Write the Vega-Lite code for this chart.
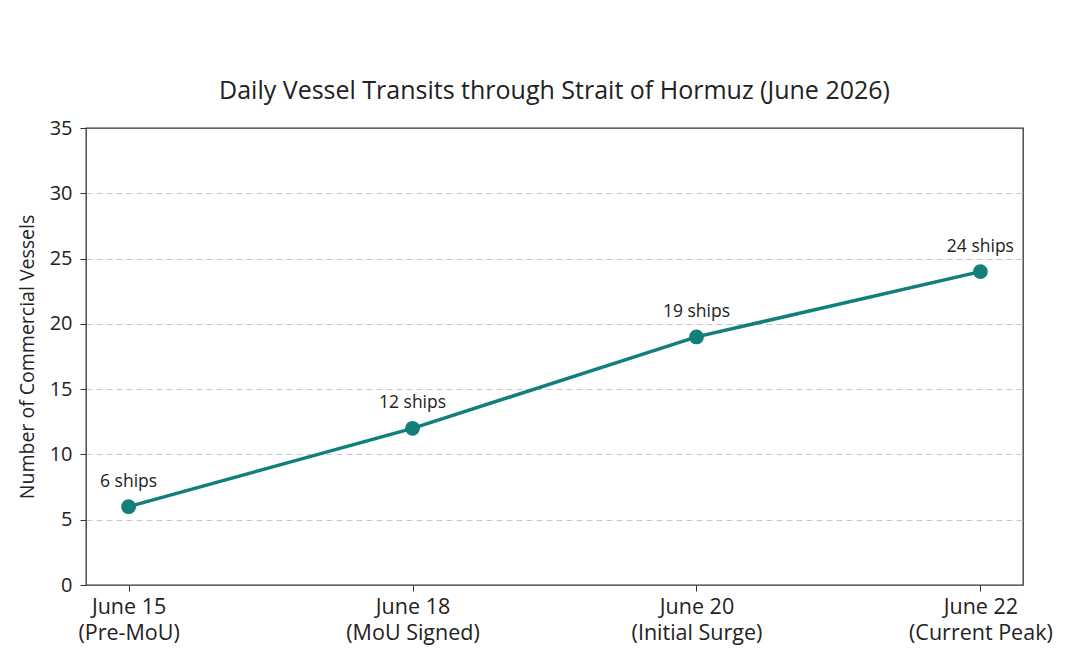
{
  "$schema": "https://vega.github.io/schema/vega-lite/v6.json",
  "width": 937,
  "height": 457,
  "autosize": {"type": "none"},
  "padding": {"left": 86, "top": 128, "right": 57, "bottom": 78},
  "background": "white",
  "config": {
    "font": "Open Sans",
    "view": {"stroke": "#333333", "strokeWidth": 1.3},
    "axis": {"labelColor": "#222222", "titleColor": "#222222", "domain": false, "tickColor": "#333333", "tickSize": 6}
  },
  "title": {
    "text": "Daily Vessel Transits through Strait of Hormuz (June 2026)",
    "fontSize": 25,
    "fontWeight": "normal",
    "color": "#222222",
    "anchor": "middle",
    "offset": 14
  },
  "data": {
    "values": [
      {"day": "June 15|(Pre-MoU)", "vessels": 6},
      {"day": "June 18|(MoU Signed)", "vessels": 12},
      {"day": "June 20|(Initial Surge)", "vessels": 19},
      {"day": "June 22|(Current Peak)", "vessels": 24}
    ]
  },
  "encoding": {
    "x": {
      "field": "day",
      "type": "ordinal",
      "sort": null,
      "scale": {"type": "point", "padding": 0.15},
      "axis": {
        "title": null,
        "labelAngle": 0,
        "labelFontSize": 21.5,
        "labelLineHeight": 26,
        "labelPadding": 5,
        "labelExpr": "split(datum.label, '|')",
        "grid": false
      }
    },
    "y": {
      "field": "vessels",
      "type": "quantitative",
      "scale": {"domain": [0, 35], "nice": false},
      "axis": {
        "title": "Number of Commercial Vessels",
        "titleFontSize": 19.5,
        "titleFontWeight": "normal",
        "titlePadding": 12,
        "labelFontSize": 20,
        "labelPadding": 8,
        "values": [0, 5, 10, 15, 20, 25, 30, 35],
        "grid": true,
        "gridDash": [6, 4],
        "gridColor": {"condition": {"test": "datum.value == 0 || datum.value == 35", "value": "transparent"}, "value": "#c8c8c8"},
        "gridWidth": 1
      }
    }
  },
  "layer": [
    {"mark": {"type": "line", "color": "#137f7a", "strokeWidth": 3.5}},
    {"mark": {"type": "point", "filled": true, "color": "#137f7a", "size": 220, "opacity": 1}},
    {
      "mark": {"type": "text", "dy": -25, "fontSize": 17.5, "color": "#222222"},
      "encoding": {"text": {"field": "label"}},
      "transform": [{"calculate": "datum.vessels + ' ships'", "as": "label"}]
    }
  ]
}
